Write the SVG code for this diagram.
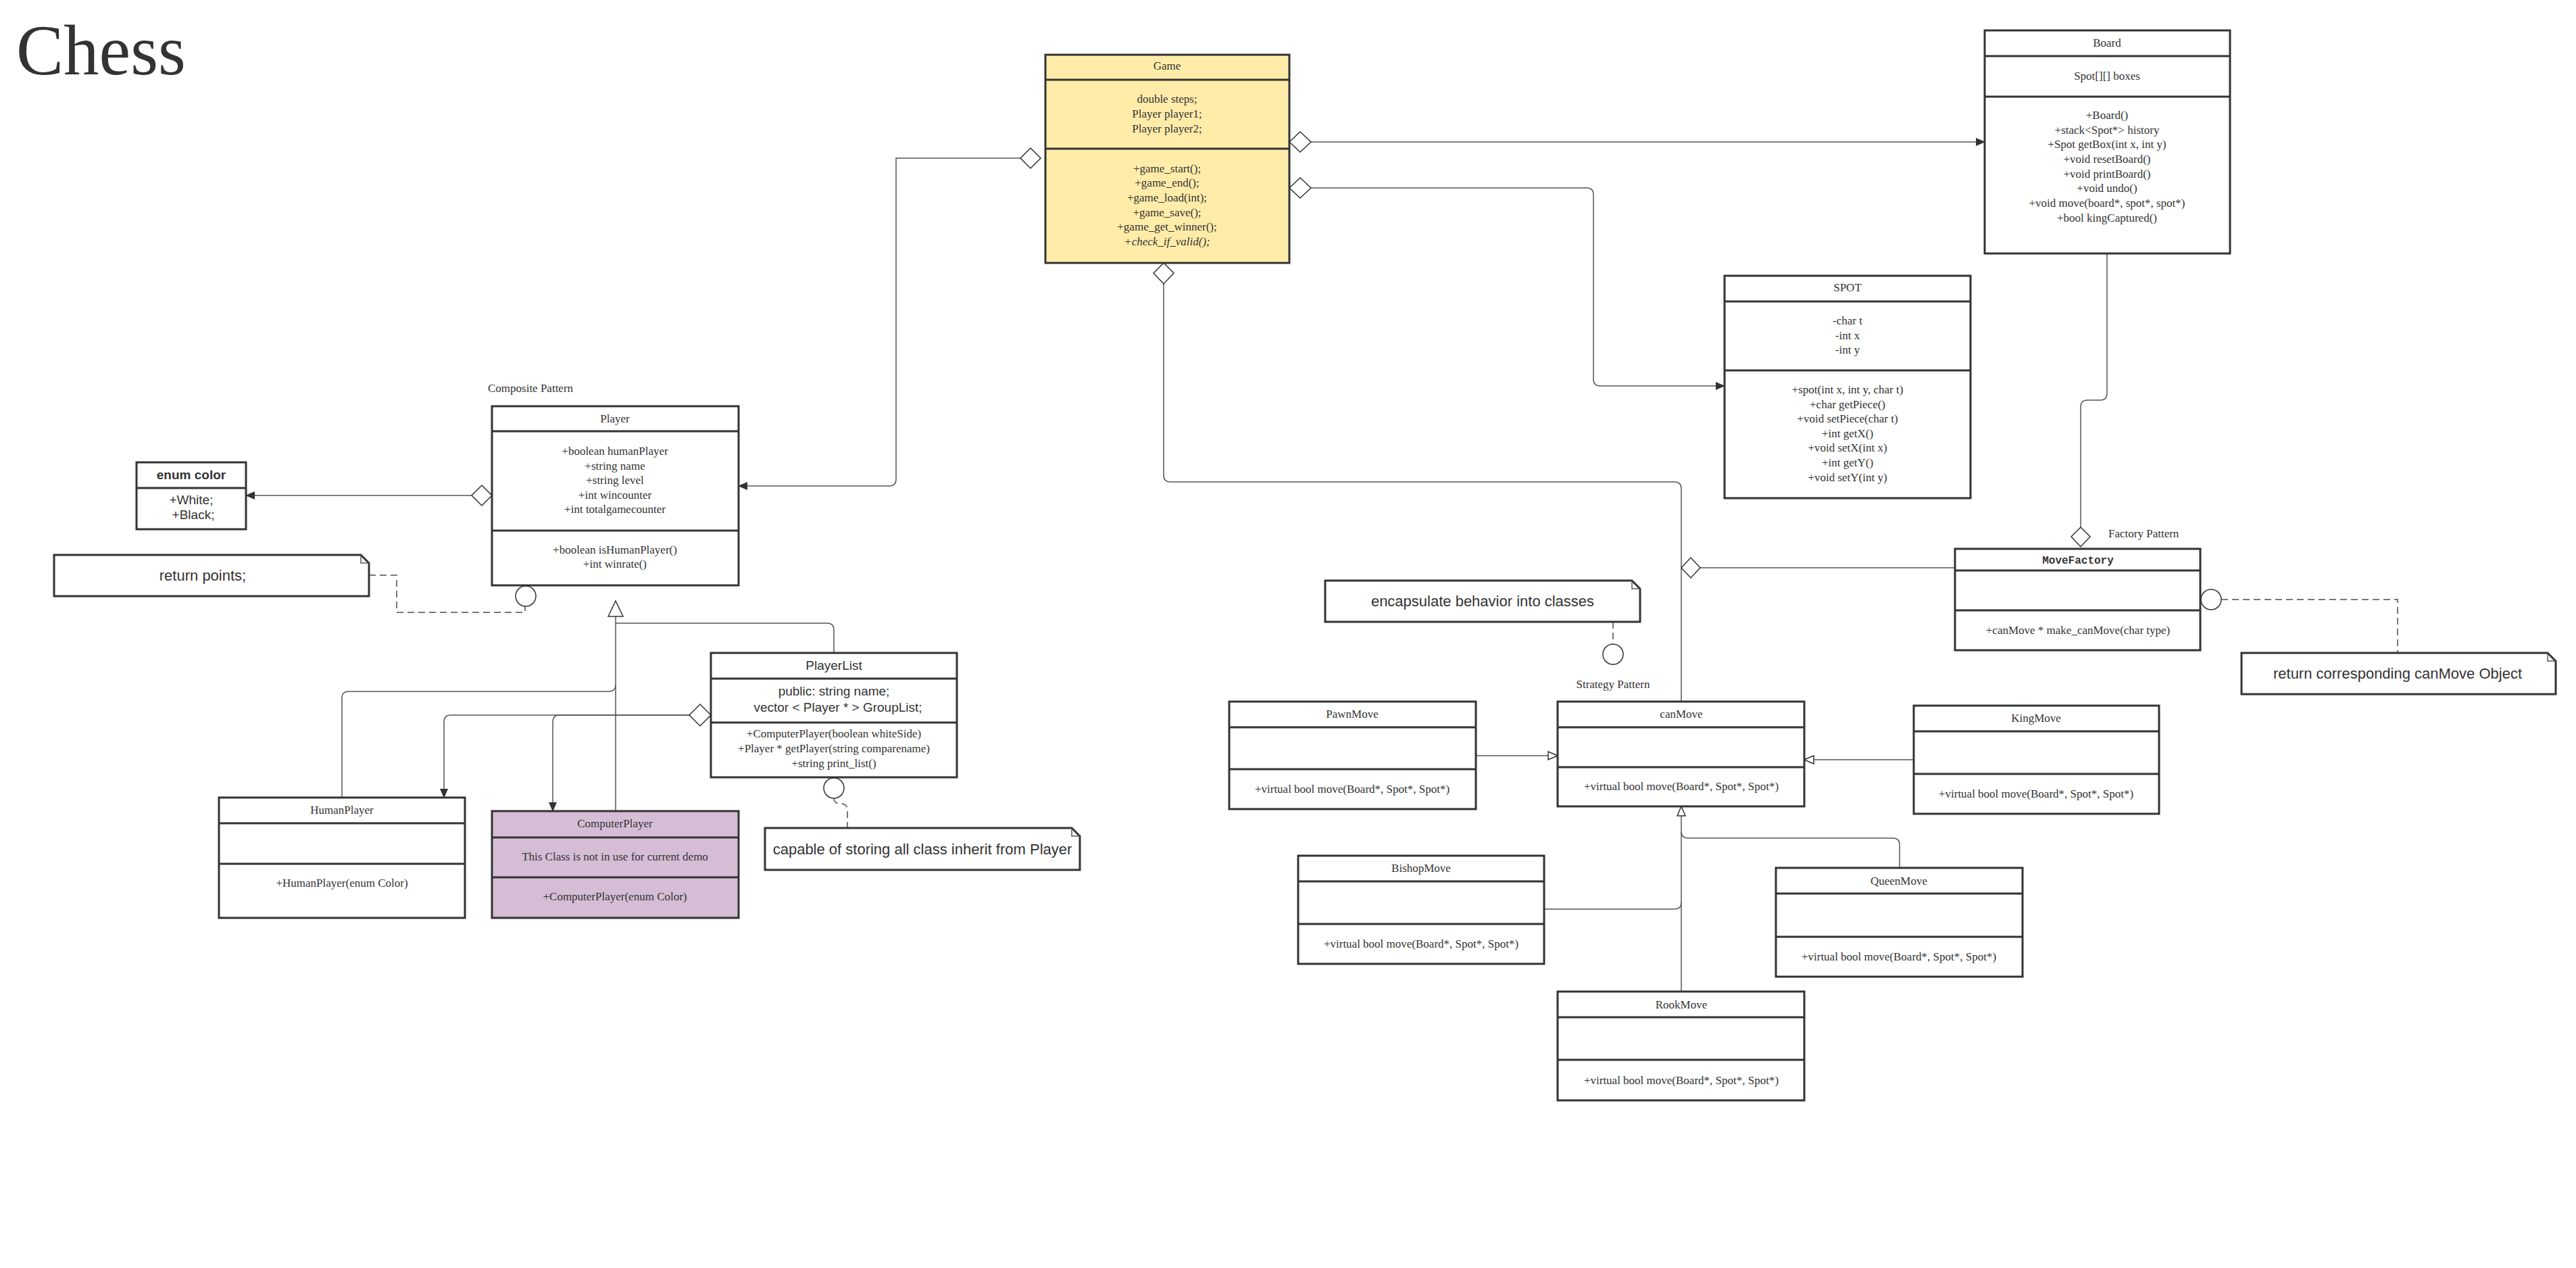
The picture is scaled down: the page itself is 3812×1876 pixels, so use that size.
<svg xmlns="http://www.w3.org/2000/svg" width="3812" height="1876" viewBox="0 0 3812 1876">
<style>
.b{fill:#fff;stroke:#333;stroke-width:3}
.g{fill:#ffeca9;stroke:#333;stroke-width:3}
.p{fill:#d4bdd5;stroke:#333;stroke-width:3}
.s{stroke:#333;stroke-width:3}
text{font-family:"Liberation Serif",serif;font-size:17px;fill:#333;text-anchor:middle}
.sa{font-family:"Liberation Sans",sans-serif;font-size:19px}
.n{font-family:"Liberation Sans",sans-serif;font-size:22px}
.c{fill:none;stroke:#555;stroke-width:1.5}
.d{fill:none;stroke:#777;stroke-width:2;stroke-dasharray:10,6}
.dm{fill:#fff;stroke:#333;stroke-width:1.5}
</style>
<defs>
<marker id="a" markerWidth="14" markerHeight="12" refX="13" refY="6" orient="auto" markerUnits="userSpaceOnUse"><path d="M0,0L14,6L0,12z" fill="#333"/></marker>
<marker id="h" markerWidth="16" markerHeight="14" refX="15" refY="7" orient="auto" markerUnits="userSpaceOnUse"><path d="M1,1L15,7L1,13z" fill="#fff" stroke="#333" stroke-width="1.5"/></marker>
<marker id="t" markerWidth="26" markerHeight="26" refX="24" refY="13" orient="auto" markerUnits="userSpaceOnUse"><path d="M1,2L24,13L1,24z" fill="#fff" stroke="#333" stroke-width="1.5"/></marker>
</defs>
<text x="24" y="110" style="font-size:105px;text-anchor:start">Chess</text>
<g id="connectors">
<path class="c" d="M1510,234H1326V709q0,10 -10,10H1093" marker-end="url(#a)"/>
<path class="c" d="M1940,210H2937" marker-end="url(#a)"/>
<path class="c" d="M1940,278H2348q10,0 10,10V561q0,10 10,10H2552" marker-end="url(#a)"/>
<path class="c" d="M1722,420V703q0,10 10,10H2478q10,0 10,10V1038"/>
<path class="c" d="M3118,375V582q0,10 -10,10H3089q-10,0 -10,10V780"/>
<path class="c" d="M2516,840H2893"/>
<path class="c" d="M698,733H364" marker-end="url(#a)"/>
<path class="c" d="M911,1200V889" marker-end="url(#t)"/>
<path class="c" d="M1234,966V932q0,-10 -10,-10H911"/>
<path class="c" d="M506,1180V1033q0,-10 10,-10H901q10,0 10,-10"/>
<path class="c" d="M1020,1058H667q-10,0 -10,10V1180" marker-end="url(#a)"/>
<path class="c" d="M1020,1058H828q-10,0 -10,10V1200" marker-end="url(#a)"/>
<path class="c" d="M2184,1118H2305" marker-end="url(#h)"/>
<path class="c" d="M2832,1124H2670" marker-end="url(#h)"/>
<path class="c" d="M2488,1467V1193" marker-end="url(#h)"/>
<path class="c" d="M2811,1284V1250q0,-10 -10,-10H2498q-10,0 -10,-10"/>
<path class="c" d="M2285,1345H2478q10,0 10,-10"/>
<path class="d" d="M546,851H587V906H777V897"/>
<path class="d" d="M1234,1181q0,8 10,8q10,0 10,10V1225"/>
<path class="d" d="M2387,920V953"/>
<path class="d" d="M3287,887H3548V966"/>
<path class="dm" d="M1540,234l-15,-15l-15,15l15,15z"/>
<path class="dm" d="M1908,210l16,-15l16,15l-16,15z"/>
<path class="dm" d="M1908,278l16,-15l16,15l-16,15z"/>
<path class="dm" d="M1722,389l15,15l-15,16l-15,-16z"/>
<path class="dm" d="M3079,780l14,14l-14,15l-14,-15z"/>
<path class="dm" d="M2488,840l14,-15l14,15l-14,15z"/>
<path class="dm" d="M728,733l-15,-15l-15,15l15,15z"/>
<path class="dm" d="M1052,1058l-16,-16l-16,16l16,16z"/>
<circle class="dm" cx="778" cy="882" r="15"/>
<circle class="dm" cx="1234" cy="1166" r="15"/>
<circle class="dm" cx="2387" cy="968" r="15"/>
<circle class="dm" cx="3272" cy="887" r="15"/>
</g>
<g id="Game">
<rect class="g" x="1547" y="81" width="361" height="308"/>
<path class="s" d="M1547,118H1908M1547,220H1908"/>
<text x="1727" y="103">Game</text>
<text x="1727" y="152">double steps;</text><text x="1727" y="174">Player player1;</text><text x="1727" y="196">Player player2;</text>
<text x="1727" y="255">+game_start();</text><text x="1727" y="276">+game_end();</text><text x="1727" y="298">+game_load(int);</text><text x="1727" y="320">+game_save();</text><text x="1727" y="341">+game_get_winner();</text><text x="1727" y="363" font-style="italic">+check_if_valid();</text>
</g>
<g id="Board">
<rect class="b" x="2937" y="45" width="363" height="330"/>
<path class="s" d="M2937,83H3300M2937,143H3300"/>
<text x="3118" y="69">Board</text>
<text x="3118" y="118">Spot[][] boxes</text>
<text x="3118" y="176">+Board()</text><text x="3118" y="198">+stack&lt;Spot*&gt; history</text><text x="3118" y="219">+Spot getBox(int x, int y)</text><text x="3118" y="241">+void resetBoard()</text><text x="3118" y="263">+void printBoard()</text><text x="3118" y="284">+void undo()</text><text x="3118" y="306">+void move(board*, spot*, spot*)</text><text x="3118" y="328">+bool kingCaptured()</text>
</g>
<g id="SPOT">
<rect class="b" x="2552" y="408" width="364" height="329"/>
<path class="s" d="M2552,446H2916M2552,548H2916"/>
<text x="2734" y="431">SPOT</text>
<text x="2734" y="480">-char t</text><text x="2734" y="502">-int x</text><text x="2734" y="523">-int y</text>
<text x="2734" y="582">+spot(int x, int y, char t)</text><text x="2734" y="604">+char getPiece()</text><text x="2734" y="625">+void setPiece(char t)</text><text x="2734" y="647">+int getX()</text><text x="2734" y="668">+void setX(int x)</text><text x="2734" y="690">+int getY()</text><text x="2734" y="712">+void setY(int y)</text>
</g>
<g id="Player">
<text x="722" y="580" style="text-anchor:start">Composite Pattern</text>
<rect class="b" x="728" y="601" width="365" height="265"/>
<path class="s" d="M728,638H1093M728,785H1093"/>
<text x="910" y="625">Player</text>
<text x="910" y="673">+boolean humanPlayer</text><text x="910" y="695">+string name</text><text x="910" y="716">+string level</text><text x="910" y="738">+int wincounter</text><text x="910" y="759">+int totalgamecounter</text>
<text x="910" y="819">+boolean isHumanPlayer()</text><text x="910" y="840">+int winrate()</text>
</g>
<g id="enumColor">
<rect class="b" x="202" y="684" width="162" height="99"/>
<path class="s" d="M202,722H364"/>
<text class="sa" x="283" y="709" font-weight="bold">enum color</text>
<text class="sa" x="283" y="746">+White;</text><text class="sa" x="286" y="768">+Black;</text>
</g>
<g id="noteReturnPoints">
<path class="b" d="M80,821H534L546,833V882H80z"/>
<path class="c" d="M534,821V833H546"/>
<text class="n" x="300" y="859">return points;</text>
</g>
<g id="PlayerList">
<rect class="b" x="1052" y="966" width="364" height="184"/>
<path class="s" d="M1052,1004H1416M1052,1069H1416"/>
<text class="sa" x="1234" y="991">PlayerList</text>
<text class="sa" x="1234" y="1029">public: string name;</text><text class="sa" x="1240" y="1053">vector &lt; Player * &gt; GroupList;</text>
<text x="1234" y="1091">+ComputerPlayer(boolean whiteSide)</text><text x="1234" y="1113">+Player * getPlayer(string comparename)</text><text x="1234" y="1135">+string print_list()</text>
</g>
<g id="noteCapable">
<path class="b" d="M1132,1225H1586L1598,1237V1287H1132z"/>
<path class="c" d="M1586,1225V1237H1598"/>
<text class="n" x="1365" y="1264">capable of storing all class inherit from Player</text>
</g>
<g id="HumanPlayer">
<rect class="b" x="324" y="1180" width="364" height="178"/>
<path class="s" d="M324,1218H688M324,1278H688"/>
<text x="506" y="1204">HumanPlayer</text>
<text x="506" y="1312">+HumanPlayer(enum Color)</text>
</g>
<g id="ComputerPlayer">
<rect class="p" x="728" y="1200" width="365" height="158"/>
<path class="s" d="M728,1239H1093M728,1298H1093"/>
<text x="910" y="1224">ComputerPlayer</text>
<text x="910" y="1273">This Class is not in use for current demo</text>
<text x="910" y="1332">+ComputerPlayer(enum Color)</text>
</g>
<g id="MoveFactory">
<text x="3120" y="795" style="text-anchor:start">Factory Pattern</text>
<rect class="b" x="2893" y="812" width="363" height="150"/>
<path class="s" d="M2893,844H3256M2893,903H3256"/>
<text x="3075" y="834" style="font-family:'Liberation Mono',monospace;font-size:16px;font-weight:bold">MoveFactory</text>
<text x="3075" y="938">+canMove * make_canMove(char type)</text>
</g>
<g id="noteReturnCanMove">
<path class="b" d="M3317,966H3770L3782,978V1027H3317z"/>
<path class="c" d="M3770,966V978H3782"/>
<text class="n" x="3548" y="1004">return corresponding canMove Object</text>
</g>
<g id="noteEncapsulate">
<path class="b" d="M1961,859H2415L2427,871V920H1961z"/>
<path class="c" d="M2415,859V871H2427"/>
<text class="n" x="2194" y="897">encapsulate behavior into classes</text>
</g>
<g id="canMove">
<text x="2387" y="1018">Strategy Pattern</text>
<rect class="b" x="2305" y="1038" width="365" height="155"/>
<path class="s" d="M2305,1076H2670M2305,1135H2670"/>
<text x="2488" y="1062">canMove</text>
<text x="2488" y="1169">+virtual bool  move(Board*, Spot*, Spot*)</text>
</g>
<g id="PawnMove">
<rect class="b" x="1819" y="1038" width="365" height="159"/>
<path class="s" d="M1819,1076H2184M1819,1138H2184"/>
<text x="2001" y="1062">PawnMove</text>
<text x="2001" y="1173">+virtual bool  move(Board*, Spot*, Spot*)</text>
</g>
<g id="KingMove">
<rect class="b" x="2832" y="1044" width="363" height="160"/>
<path class="s" d="M2832,1082H3195M2832,1145H3195"/>
<text x="3013" y="1068">KingMove</text>
<text x="3013" y="1180">+virtual bool  move(Board*, Spot*, Spot*)</text>
</g>
<g id="BishopMove">
<rect class="b" x="1921" y="1266" width="364" height="160"/>
<path class="s" d="M1921,1304H2285M1921,1367H2285"/>
<text x="2103" y="1290">BishopMove</text>
<text x="2103" y="1402">+virtual bool  move(Board*, Spot*, Spot*)</text>
</g>
<g id="QueenMove">
<rect class="b" x="2628" y="1284" width="365" height="161"/>
<path class="s" d="M2628,1322H2993M2628,1386H2993"/>
<text x="2810" y="1309">QueenMove</text>
<text x="2810" y="1421">+virtual bool  move(Board*, Spot*, Spot*)</text>
</g>
<g id="RookMove">
<rect class="b" x="2305" y="1467" width="365" height="161"/>
<path class="s" d="M2305,1505H2670M2305,1568H2670"/>
<text x="2488" y="1492">RookMove</text>
<text x="2488" y="1604">+virtual bool  move(Board*, Spot*, Spot*)</text>
</g>
</svg>
